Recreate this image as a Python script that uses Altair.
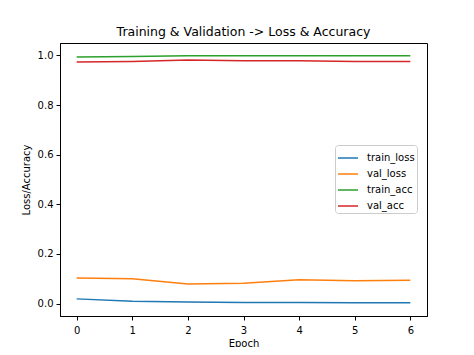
import altair as alt
import pandas as pd

epochs = [0, 1, 2, 3, 4, 5, 6]
train_loss = [0.019, 0.009, 0.006, 0.004, 0.004, 0.003, 0.003]
val_loss = [0.103, 0.100, 0.079, 0.082, 0.096, 0.092, 0.094]
train_acc = [0.994, 0.996, 0.999, 0.999, 0.999, 0.999, 0.999]
val_acc = [0.973, 0.975, 0.981, 0.978, 0.978, 0.975, 0.975]

series_names = ["train_loss", "val_loss", "train_acc", "val_acc"]
series_colors = ["#1f77b4", "#ff7f0e", "#2ca02c", "#d62728"]

rows = []
for name, vals in zip(series_names, [train_loss, val_loss, train_acc, val_acc]):
    for e, v in zip(epochs, vals):
        rows.append({"epoch": e, "value": v, "series": name})
df = pd.DataFrame(rows)

font = "DejaVu Sans"

chart = alt.Chart(df).mark_line(strokeWidth=1.5).encode(
    x=alt.X("epoch:Q", scale=alt.Scale(domain=[-0.3, 6.3], nice=False, zero=False),
            axis=alt.Axis(title="Epoch", values=epochs, format="d", grid=False,
                          tickSize=4, labelPadding=5, titlePadding=3)),
    y=alt.Y("value:Q", scale=alt.Scale(domain=[-0.05, 1.05], nice=False, zero=False),
            axis=alt.Axis(title="Loss/Accuracy", values=[0, 0.2, 0.4, 0.6, 0.8, 1.0],
                          format=".1f", grid=False, tickSize=4, labelPadding=3, titlePadding=6)),
    color=alt.Color("series:N",
                    scale=alt.Scale(domain=series_names, range=series_colors),
                    sort=series_names,
                    legend=alt.Legend(title=None, orient="none", legendX=275, legendY=102,
                                      symbolType="stroke", symbolSize=400, symbolStrokeWidth=1.5,
                                      labelFontSize=10, labelFont=font, labelColor="#000",
                                      strokeColor="#cccccc", fillColor="white", padding=2,
                                      cornerRadius=3, rowPadding=-4, labelOffset=8)),
).properties(
    width=367,
    height=273,
    title=alt.Title("Training & Validation -> Loss & Accuracy", fontSize=12.5, font=font,
                    fontWeight="normal", color="#000", offset=5),
    autosize=alt.AutoSizeParams(type="none"),
    padding={"left": 52, "top": 35, "right": 39, "bottom": 31},
).configure_view(
    stroke="#000", strokeWidth=1
).configure_axis(
    domainColor="#000", tickColor="#000", labelColor="#000", titleColor="#000",
    labelFont=font, titleFont=font, labelFontSize=10, titleFontSize=10,
    titleFontWeight="normal", domainWidth=1, tickWidth=1
)

chart.save("out.html", embed_options={"renderer": "svg", "actions": False})
